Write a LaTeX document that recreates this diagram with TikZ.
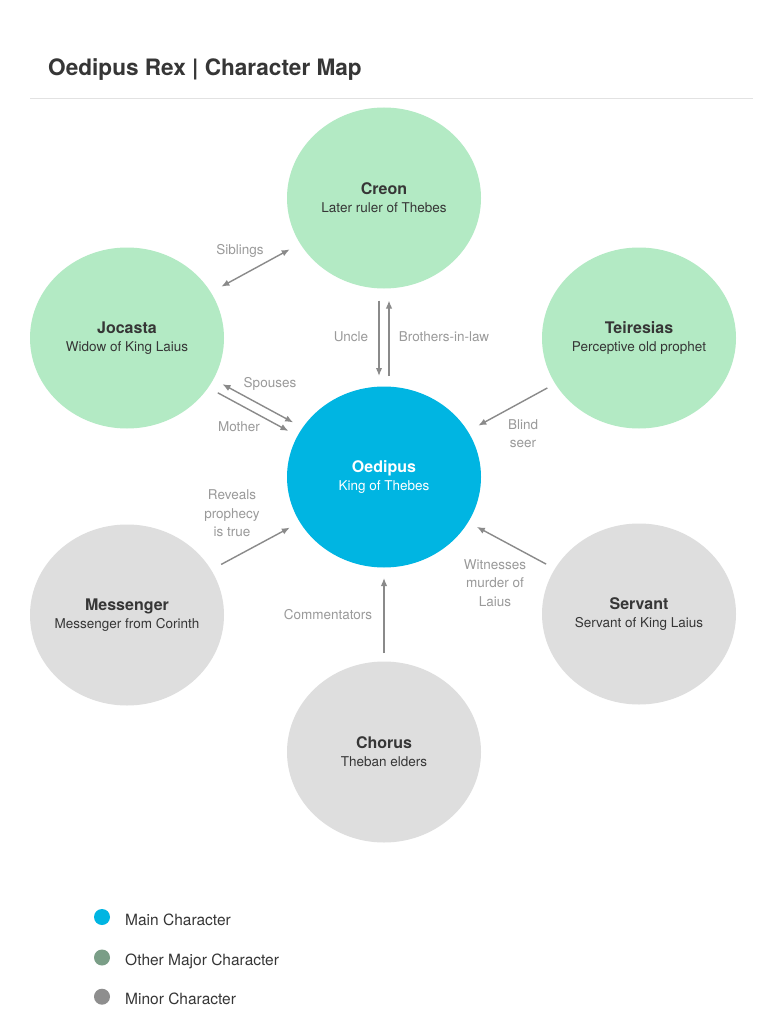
\documentclass[tikz,border=0pt]{standalone}
\usepackage{fontspec}
\setmainfont{TeX Gyre Heros}
\usetikzlibrary{arrows.meta,shapes.geometric,positioning}
\definecolor{mainblue}{HTML}{00B5E2}
\definecolor{majorgreen}{HTML}{B3EAC4}
\definecolor{minorgray}{HTML}{DEDEDE}
\definecolor{legendgreen}{HTML}{7A9E87}
\definecolor{legendgray}{HTML}{8E8E8E}
\definecolor{arrowgray}{HTML}{8A8A8A}
\definecolor{labelgray}{HTML}{9A9A9A}
\definecolor{textdark}{HTML}{363636}
\definecolor{rulegray}{HTML}{E2E2E2}
\newcommand{\charname}[1]{{\bfseries\fontsize{16}{17.7}\selectfont #1}}

\begin{document}
\begin{tikzpicture}[x=1pt, y=-1pt,
  person/.style={ellipse, minimum width=194pt, minimum height=181pt, inner sep=0pt, outer sep=0pt},
  persontext/.style={align=center, font=\fontsize{13.5}{17.7}\selectfont, text=textdark, inner sep=0pt},
  rel/.style={draw=arrowgray, line width=1.4pt, -{Latex[length=8pt,width=6.5pt]}},
  relboth/.style={rel, {Latex[length=8pt,width=6.5pt]}-{Latex[length=8pt,width=6.5pt]}},
  rellabel/.style={font=\fontsize{13.5}{18.5}\selectfont, text=labelgray, align=center, inner sep=0pt},
  legenddot/.style={circle, minimum size=16pt, inner sep=0pt},
  legendtext/.style={font=\fontsize{15.5}{18}\selectfont, text=textdark, inner sep=0pt, anchor=base west}]

\useasboundingbox[fill=white] (0,0) rectangle (768,1024);

% title and rule
\node[anchor=base west, font=\bfseries\fontsize{22.6}{26}\selectfont, text=textdark, inner sep=0pt] (title) at (48,76) {Oedipus Rex | Character Map};
\draw[rulegray, line width=0.8pt] (30,98) -- (753,98);

% characters
\node[person, fill=majorgreen, label={[persontext]center:{\charname{Creon}\\Later ruler of Thebes}}] (creon) at (384,198) {};
\node[person, fill=majorgreen, label={[persontext]center:{\charname{Jocasta}\\Widow of King Laius}}] (jocasta) at (127,338) {};
\node[person, fill=majorgreen, label={[persontext]center:{\charname{Teiresias}\\Perceptive old prophet}}] (teiresias) at (639,338) {};
\node[person, fill=mainblue, label={[persontext, text=white]center:{\charname{Oedipus}\\King of Thebes}}] (oedipus) at (384,477) {};
\node[person, fill=minorgray, label={[persontext]center:{\charname{Messenger}\\Messenger from Corinth}}] (messenger) at (127,615) {};
\node[person, fill=minorgray, label={[persontext]center:{\charname{Servant}\\Servant of King Laius}}] (servant) at (639,614) {};
\node[person, fill=minorgray, label={[persontext]center:{\charname{Chorus}\\Theban elders}}] (chorus) at (384,752) {};

% Jocasta <-> Creon
\draw[relboth, shorten <=12pt, shorten >=12pt] (jocasta) -- (creon);
\node[rellabel, anchor=base] (lsiblings) at (240,254) {Siblings};
% Creon -> Oedipus / Oedipus -> Creon
\draw[rel, transform canvas={xshift=-5pt}, shorten <=12pt, shorten >=10.5pt] (creon) -- (oedipus);
\draw[rel, transform canvas={xshift=5pt}, shorten <=10.5pt, shorten >=12pt] (oedipus) -- (creon);
\node[rellabel, anchor=base] (luncle) at (351,341.7) {Uncle};
\node[rellabel, anchor=base] (lbrothers) at (444,341.7) {Brothers-in-law};
% Jocasta <-> Oedipus, Jocasta -> Oedipus
\draw[relboth, transform canvas={xshift=2.3pt, yshift=4.2pt}, shorten <=10.5pt, shorten >=10.5pt] (jocasta) -- (oedipus);
\draw[rel, transform canvas={xshift=-2.4pt, yshift=-4.4pt}, shorten <=10.5pt, shorten >=10.5pt] (jocasta) -- (oedipus);
\node[rellabel, anchor=base] (lspouses) at (270,387.7) {Spouses};
\node[rellabel, anchor=base] (lmother) at (239,431) {Mother};
% Teiresias -> Oedipus
\draw[rel, shorten <=9pt, shorten >=12pt] (teiresias) -- (oedipus);
\node[rellabel] (lblind) at (523,433.5) {Blind\\seer};
% Messenger -> Oedipus
\draw[rel, shorten <=11.5pt, shorten >=11.5pt] (messenger) -- (oedipus);
\node[rellabel] (lreveals) at (232,513.5) {Reveals\\prophecy\\is true};
% Servant -> Oedipus
\draw[rel, shorten <=10pt, shorten >=10pt] (servant) -- (oedipus);
\node[rellabel] (lwitness) at (495,582.7) {Witnesses\\murder of\\Laius};
% Chorus -> Oedipus
\draw[rel, shorten <=8.5pt, shorten >=10.5pt] (chorus) -- (oedipus);
\node[rellabel, anchor=base] (lcomment) at (328,619.3) {Commentators};

% legend
\node[legenddot, fill=mainblue] (lgmain) at (102,917) {};
\node[legendtext] (lgmaintext) at (125,925) {Main Character};
\node[legenddot, fill=legendgreen] (lgmajor) at (102,957.5) {};
\node[legendtext] (lgmajortext) at (125,965) {Other Major Character};
\node[legenddot, fill=legendgray] (lgminor) at (102,996.7) {};
\node[legendtext] (lgminortext) at (125,1004) {Minor Character};

\end{tikzpicture}
\end{document}
